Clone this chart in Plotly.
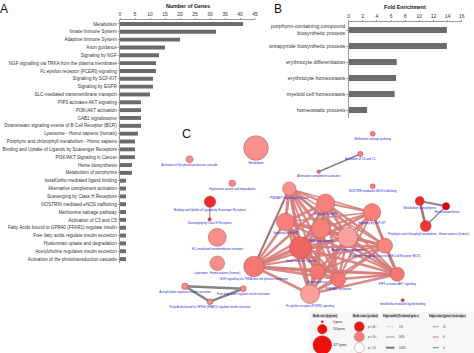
import plotly.graph_objects as go

W, H = 474, 353

# ---------------- Panel A data ----------------
a_terms = [
    "Metabolism", "Innate Immune System", "Adaptive Immune System", "Axon guidance",
    "Signaling by NGF", "NGF signalling via TRKA from the plasma membrane",
    "Fc epsilon receptor (FCERI) signaling", "Signaling by SCF-KIT", "Signaling by EGFR",
    "SLC-mediated transmembrane transport", "PIP3 activates AKT signaling",
    "PI3K/AKT activation", "GAB1 signalosome",
    "Downstream signaling events of B Cell Receptor (BCR)",
    "Lysosome - Homo sapiens (human)",
    "Porphyrin and chlorophyll metabolism - Homo sapiens",
    "Binding and Uptake of Ligands by Scavenger Receptors",
    "PI3K/AKT Signaling in Cancer", "Heme biosynthesis", "Metabolism of porphyrins",
    "betaKlotho-mediated ligand binding", "Alternative complement activation",
    "Scavenging by Class H Receptors", "NOSTRIN mediated eNOS trafficking",
    "Methionine salvage pathway", "Activation of C3 and C5",
    "Fatty Acids bound to GPR40 (FFAR1) regulate insulin",
    "Free fatty acids regulate insulin secretion",
    "Hyaluronan uptake and degradation", "Acetylcholine regulates insulin secretion",
    "Activation of the phototransduction cascade",
]
a_genes = [41, 32, 20, 15, 13, 12, 12, 11, 11, 10, 7, 7, 7, 7, 6, 5, 5, 5, 4, 4,
           2, 2, 2, 2, 2, 2, 2, 2, 2, 2, 2]
a_ticks = [0, 5, 10, 15, 20, 25, 30, 35, 40, 45]

# ---------------- Panel B data ----------------
b_terms = [
    "porphyrin-containing compound<br>biosynthetic process",
    "tetrapyrrole biosynthetic process",
    "erythrocyte differentiation",
    "erythrocyte homeostasis",
    "myeloid cell homeostasis",
    "homeostatic process",
]
b_fold = [13.9, 13.9, 6.8, 6.7, 6.5, 2.6]
b_ticks = [0, 2, 4, 6, 8, 10, 12, 14, 16]

# ---------------- Panel C network data (layout coordinates) ----------------
node_labels = [
    "Metabolism", "Activation of the phototransduction cascade",
    "Hyaluronan uptake and degradation",
    "Binding and Uptake of Ligands by Scavenger Receptors",
    "Scavenging by Class H Receptors", "Methionine salvage pathway",
    "Activation of C3 and C5", "Alternative complement activation",
    "NOSTRIN mediated eNOS trafficking", "PI3K/AKT Signaling in Cancer",
    "Signaling by NGF", "Signaling by SCF-KIT", "Signaling by EGFR",
    "GAB1 signalosome", "Adaptive Immune System",
    "Downstream signaling events of B Cell Receptor (BCR)",
    "Innate Immune System", "NGF signalling via TRKA from the plasma membrane",
    "Axon guidance", "PI3K/AKT activation", "PIP3 activates AKT signaling",
    "Fc epsilon receptor (FCERI) signaling", "betaKlotho-mediated ligand binding",
    "Metabolism of porphyrins", "Heme biosynthesis",
    "Porphyrin and chlorophyll metabolism - Homo sapiens (human)",
    "SLC-mediated transmembrane transport", "Lysosome - Homo sapiens (human)",
    "Acetylcholine regulates insulin secretion",
    "Free fatty acids regulate insulin secretion",
    "Fatty Acids bound to GPR40 (FFAR1) regulate insulin secretion",
]
node_x = [256.0, 189.5, 232.3, 210.0, 209.7, 372.7, 360.3, 318.7, 372.7, 289.3,
          325.7, 372.0, 285.5, 320.7, 347.7, 385.0, 300.5, 254.0, 317.3, 338.3,
          397.3, 310.0, 402.7, 419.7, 446.0, 425.7, 217.3, 217.3, 185.0, 243.3, 210.0]
node_y = [148.0, 159.3, 183.3, 201.7, 219.3, 133.7, 154.0, 171.7, 186.3, 188.7,
          203.0, 212.3, 222.0, 228.7, 237.3, 245.7, 247.7, 266.5, 271.7, 279.3,
          274.3, 294.0, 300.3, 201.0, 206.3, 226.0, 237.3, 263.3, 286.3, 288.7, 301.7]
node_r = [12.3, 3.5, 3.3, 5.7, 1.7, 2.5, 2.7, 1.8, 2.5, 6.8,
          9.0, 8.7, 9.0, 9.5, 10.0, 7.5, 11.0, 10.3, 7.5, 7.5,
          7.0, 9.5, 1.7, 4.5, 3.7, 5.5, 9.0, 7.3, 3.3, 3.0, 3.0]
node_color = ["#f8918d", "#f38c89", "#f38c89", "#ed2a2d", "#e0383c", "#f38080",
              "#f38080", "#ee6a6a", "#f07e7e", "#f8908c", "#f7807b", "#f7807b",
              "#f7807b", "#f7807b", "#f9a19d", "#f7857f", "#f06560", "#f47772",
              "#f47772", "#f47772", "#f47772", "#f9a09c", "#c05050", "#ec2b2b",
              "#da0010", "#ee3434", "#f7908b", "#f7908b", "#f38c89", "#f38c89",
              "#f38c89"]
label_dx = [0, 0, 0, 0, 0, 0, 0, 0, 0, 0, 0, 0, 0, 0, 0, 0, 0, 0, 0, 0,
            0, 0, 0, 0, 1, 3, 0, 0, 0, 0, 0]

# edges: (source, target, width, colour class)
edges = [
    (9, 12, 3, "s"), (9, 13, 3, "s"), (9, 16, 3, "s"), (9, 17, 2, "r"), (9, 14, 2.5, "s"),
    (9, 19, 2.5, "s"), (9, 21, 2.5, "s"), (9, 18, 2, "s"), (9, 10, 2, "s"), (9, 15, 1.5, "s"),
    (9, 20, 1.5, "s"), (9, 11, 1.5, "s"),
    (10, 11, 2, "s"), (10, 12, 3, "s"), (10, 13, 3, "s"), (10, 14, 3, "s"), (10, 15, 2.5, "s"),
    (10, 16, 3, "s"), (10, 17, 2.5, "s"), (10, 18, 2.5, "s"), (10, 19, 2.5, "s"),
    (10, 20, 2, "s"), (10, 21, 2.5, "s"),
    (11, 13, 2, "s"), (11, 14, 2.5, "s"), (11, 15, 2.5, "s"), (11, 16, 2, "s"),
    (11, 17, 1.5, "s"), (11, 19, 2, "s"), (11, 20, 2.5, "s"), (11, 21, 1.5, "s"),
    (11, 12, 1.5, "s"),
    (12, 13, 3, "s"), (12, 14, 2.5, "s"), (12, 16, 3.5, "s"), (12, 17, 2.5, "s"),
    (12, 18, 2.5, "s"), (12, 19, 2.5, "s"), (12, 21, 2.5, "s"), (12, 15, 2, "s"),
    (12, 20, 2, "s"),
    (13, 14, 3, "s"), (13, 15, 2.5, "s"), (13, 16, 3, "s"), (13, 17, 2.5, "s"),
    (13, 18, 2.5, "s"), (13, 19, 2.5, "s"), (13, 20, 2.5, "s"), (13, 21, 2.5, "s"),
    (14, 15, 2.5, "s"), (14, 16, 3, "s"), (14, 17, 2, "s"), (14, 18, 2.5, "s"),
    (14, 19, 2.5, "s"), (14, 20, 2.5, "s"), (14, 21, 2.5, "s"),
    (15, 16, 2.5, "s"), (15, 17, 2, "s"), (15, 19, 2, "s"), (15, 20, 3, "s"),
    (15, 21, 2, "s"), (15, 18, 2, "s"),
    (16, 17, 3, "s"), (16, 18, 3, "s"), (16, 19, 3, "s"), (16, 20, 2.5, "s"), (16, 21, 3, "s"),
    (17, 18, 2.5, "s"), (17, 19, 2.5, "s"), (17, 20, 2.5, "s"), (17, 21, 3, "s"),
    (18, 19, 2.5, "s"), (18, 20, 2, "s"), (18, 21, 2.5, "s"),
    (19, 20, 2.5, "s"), (19, 21, 2.5, "s"), (20, 21, 2.5, "s"),
    (3, 4, 1, "r"), (6, 7, 1.5, "p"), (23, 24, 2, "g"), (23, 25, 2.5, "r"),
    (24, 25, 1.2, "p"), (28, 29, 2.5, "g"), (28, 30, 2.5, "g"), (29, 30, 2.5, "g"),
]
edge_colors = {"s": "rgba(214,124,120,0.9)", "r": "#a87070",
               "g": "#8a8280", "p": "#8a7c98"}

AX = "#9a9a9a"
fig = go.Figure()

# ---- Panel A bars
fig.add_trace(go.Bar(x=a_genes, y=a_terms, orientation="h", width=0.5,
                     marker=dict(color="#6b6b6b", line=dict(width=0)),
                     xaxis="x", yaxis="y", hoverinfo="x+y", showlegend=False))
# ---- Panel B bars
fig.add_trace(go.Bar(x=b_fold, y=b_terms, orientation="h", width=0.38,
                     marker=dict(color="#6b6b6b", line=dict(width=0)),
                     xaxis="x2", yaxis="y2", hoverinfo="x+y", showlegend=False))

# ---- Panel C edges, grouped by colour and width
groups = {}
for s, t, w, c in edges:
    groups.setdefault((c, w), []).append((s, t))
for (c, w), pairs in groups.items():
    xs, ys = [], []
    for s, t in pairs:
        xs += [node_x[s], node_x[t], None]
        ys += [node_y[s], node_y[t], None]
    fig.add_trace(go.Scatter(x=xs, y=ys, mode="lines",
                             line=dict(color=edge_colors[c], width=w),
                             xaxis="x3", yaxis="y3", hoverinfo="skip",
                             showlegend=False))

# ---- Panel C nodes
fig.add_trace(go.Scatter(x=node_x, y=node_y, mode="markers",
                         marker=dict(size=[2 * r for r in node_r], color=node_color,
                                     opacity=1,
                                     line=dict(color="#a85555", width=0.5)),
                         text=node_labels, hoverinfo="text",
                         xaxis="x3", yaxis="y3", showlegend=False))
# ---- Panel C labels
fig.add_trace(go.Scatter(x=[x + d for x, d in zip(node_x, label_dx)],
                         y=[y + r + 2.6 for y, r in zip(node_y, node_r)],
                         mode="text", text=node_labels,
                         textfont=dict(family="Arial", size=2.9, color="#2525dd"),
                         textposition="middle center", hoverinfo="skip",
                         xaxis="x3", yaxis="y3", showlegend=False))

def px(v):
    return v / W

def py(v):
    return 1 - v / H

numfont = dict(family="Arial", size=5, color="#333333")
afont = dict(family="Arial", size=4.6, color="#333333")
bfont = dict(family="Arial", size=5.3, color="#333333")

common = dict(showgrid=False, zeroline=False, showline=True, linecolor=AX,
              linewidth=0.7, ticks="outside", ticklen=1.5, tickcolor=AX,
              tickwidth=0.6, fixedrange=True, automargin=False)

fig.update_layout(
    template="none",
    width=W, height=H, margin=dict(l=0, r=0, t=0, b=0, pad=0),
    paper_bgcolor="white", plot_bgcolor="rgba(0,0,0,0)",
    font=dict(family="Arial"),
    showlegend=False,
    xaxis=dict(domain=[px(120), px(255)], range=[0, 45], tickvals=a_ticks,
               side="top", anchor="y", tickfont=numfont, **common),
    yaxis=dict(domain=[py(263), py(20)], type="category", categoryarray=a_terms,
               range=[30.5, -0.5], anchor="x", tickfont=afont, **common),
    xaxis2=dict(domain=[px(348.7), px(461.7)], range=[0, 16], tickvals=b_ticks,
                side="top", anchor="y2", tickfont=numfont, **common),
    yaxis2=dict(domain=[py(118), py(22)], type="category", categoryarray=b_terms,
                range=[5.5, -0.5], anchor="x2", tickfont=bfont, **common),
    xaxis3=dict(domain=[0, 1], range=[0, W], visible=False, anchor="y3",
                fixedrange=True, automargin=False),
    yaxis3=dict(domain=[0, 1], range=[H, 0], visible=False, anchor="x3",
                fixedrange=True, automargin=False),
)

ann = []
def A(x, y, text, size, color="#111111", xanchor="center", bold=False, yanchor="middle"):
    ann.append(dict(x=x, y=y, xref="x3", yref="y3", text=("<b>%s</b>" % text) if bold else text,
                    showarrow=False, xanchor=xanchor, yanchor=yanchor,
                    font=dict(family="Arial", size=size, color=color)))

# panel letters (paper coordinates, centred on the glyph)
for lx, ltxt in [(3.8, "A"), (278.2, "B")]:
    ann.append(dict(x=lx / W, y=1.0, xref="paper", yref="paper", text=ltxt,
                    showarrow=False, xanchor="center", yanchor="top",
                    font=dict(family="Arial", size=12, color="#111111")))
A(186.5, 134.2, "C", 12.5)
A(187.5, 6.3, "Number of Genes", 5.3, bold=True)
A(405.2, 6.8, "Fold Enrichment", 5.3, bold=True)

# ---- network legend (bottom right)
shapes = [dict(type="rect", xref="x3", yref="y3", x0=309, x1=474, y0=311.5, y1=353,
               fillcolor="#f7f7f7", line=dict(width=0), layer="below")]
hdr = [(312, 338, "Node size (# genes)"), (352, 378, "Node color (p value)"),
       (385, 416, "Edge width (% shared genes)"), (431, 464, "Edge color (genes from input)")]
for x0, x1, t in hdr:
    shapes.append(dict(type="rect", xref="x3", yref="y3", x0=x0, x1=x1, y0=313.5, y1=318,
                       fillcolor="#dcdcdc", line=dict(width=0), layer="below"))
    A((x0 + x1) / 2, 315.8, t, 2.6, color="#222222", bold=True)

# node size legend
for cy, r, t in [(321.7, 1.0, "0 genes"), (329.3, 4.7, "100 genes"), (345.0, 9.3, "2077 genes")]:
    shapes.append(dict(type="circle", xref="x3", yref="y3", x0=322.3 - r, x1=322.3 + r,
                       y0=cy - r, y1=cy + r, fillcolor="#ee1010",
                       line=dict(color="#c00000", width=0.4)))
    A(330.5, cy, t, 2.6, color="#222222", xanchor="left")
# node colour legend
for cy, col, t in [(326.7, "#ee1515", "p < 10⁻⁵"), (336.7, "#f58080", "p < 10⁻³"),
                   (347.7, "#ffffff", "p < 1.0")]:
    shapes.append(dict(type="circle", xref="x3", yref="y3", x0=354.3, x1=364.3,
                       y0=cy - 5, y1=cy + 5, fillcolor=col,
                       line=dict(color="#b06060", width=0.4)))
    A(365.8, cy, t, 2.6, color="#222222", xanchor="left")
# edge width legend
for cy, w, col, t in [(326.7, 0.5, "#bdbdbd", "1%"), (337.0, 1.0, "#999999", "50%"),
                      (347.7, 2.0, "#777777", "100%")]:
    shapes.append(dict(type="line", xref="x3", yref="y3", x0=386, x1=394.5, y0=cy, y1=cy,
                       line=dict(color=col, width=w)))
    A(396.5, cy, t, 2.6, color="#222222", xanchor="left")
# edge colour legend
for cy, col, t in [(326.7, "#e07a76", "11"), (337.0, "#c08080", "6"), (347.7, "#8a7878", "0")]:
    shapes.append(dict(type="line", xref="x3", yref="y3", x0=432.7, x1=438.5, y0=cy, y1=cy,
                       line=dict(color=col, width=1.0)))
    A(440.5, cy, t, 2.6, color="#222222", xanchor="left")

fig.update_layout(annotations=ann, shapes=shapes)
fig.write_html("out.html")
